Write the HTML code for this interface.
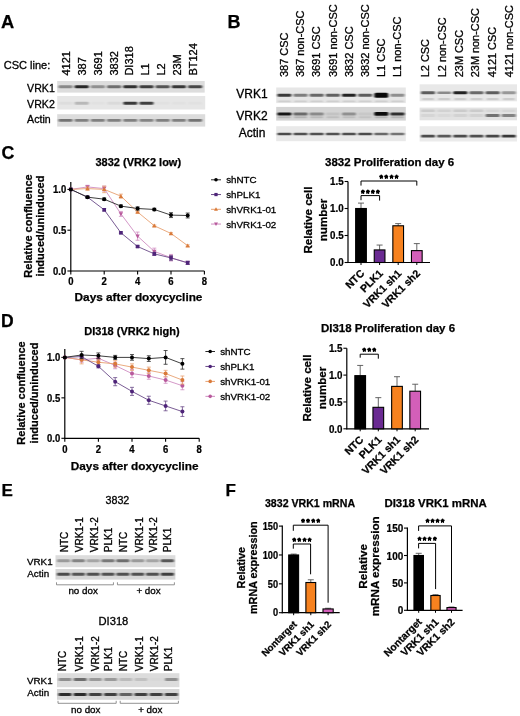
<!DOCTYPE html>
<html><head><meta charset="utf-8"><title>Figure</title>
<style>
html,body{margin:0;padding:0;background:#fff;}
body{width:520px;height:716px;overflow:hidden;}
svg{display:block;filter:blur(0.4px);}
text{font-family:"Liberation Sans", Arial, Helvetica, sans-serif;}
</style></head>
<body>
<svg width="520" height="716" viewBox="0 0 520 716">
<defs>
<filter id="b1" x="-50%" y="-100%" width="200%" height="300%"><feGaussianBlur stdDeviation="0.8 0.6"/></filter>
<filter id="sb" x="-20%" y="-50%" width="140%" height="200%"><feGaussianBlur stdDeviation="0.35"/><feComponentTransfer><feFuncA type="linear" slope="1.5"/></feComponentTransfer></filter>
</defs>
<rect width="520" height="716" fill="#fff"/>
<text x="1.00" y="27.80" font-size="18.3" font-weight="bold" stroke="#000" stroke-width="0.25">A</text>
<text x="3.80" y="69.20" font-size="11" stroke="#000" stroke-width="0.3">CSC line:</text>
<text x="69.90" y="75.60" font-size="11" stroke="#000" stroke-width="0.3" transform="rotate(-90 69.90 75.60)">4121</text>
<text x="85.80" y="75.60" font-size="11" stroke="#000" stroke-width="0.3" transform="rotate(-90 85.80 75.60)">387</text>
<text x="101.70" y="75.60" font-size="11" stroke="#000" stroke-width="0.3" transform="rotate(-90 101.70 75.60)">3691</text>
<text x="117.60" y="75.60" font-size="11" stroke="#000" stroke-width="0.3" transform="rotate(-90 117.60 75.60)">3832</text>
<text x="133.50" y="75.60" font-size="11" stroke="#000" stroke-width="0.3" transform="rotate(-90 133.50 75.60)">DI318</text>
<text x="149.40" y="75.60" font-size="11" stroke="#000" stroke-width="0.3" transform="rotate(-90 149.40 75.60)">L1</text>
<text x="165.30" y="75.60" font-size="11" stroke="#000" stroke-width="0.3" transform="rotate(-90 165.30 75.60)">L2</text>
<text x="181.20" y="75.60" font-size="11" stroke="#000" stroke-width="0.3" transform="rotate(-90 181.20 75.60)">23M</text>
<text x="197.10" y="75.60" font-size="11" stroke="#000" stroke-width="0.3" transform="rotate(-90 197.10 75.60)">BT124</text>
<text x="27.10" y="91.80" font-size="10.6" stroke="#000" stroke-width="0.3">VRK1</text>
<text x="27.10" y="107.80" font-size="10.6" stroke="#000" stroke-width="0.3">VRK2</text>
<text x="27.10" y="123.40" font-size="10.6" stroke="#000" stroke-width="0.3">Actin</text>
<rect x="57.20" y="81.00" width="147.50" height="11.60" fill="#dddddd"/>
<rect x="58.50" y="85.30" width="14.00" height="3.00" rx="1.00" fill="#000" fill-opacity="0.38" filter="url(#b1)"/>
<rect x="74.70" y="85.30" width="14.00" height="3.00" rx="1.00" fill="#000" fill-opacity="0.82" filter="url(#b1)"/>
<rect x="90.90" y="85.30" width="14.00" height="3.00" rx="1.00" fill="#000" fill-opacity="0.35" filter="url(#b1)"/>
<rect x="107.10" y="85.30" width="14.00" height="3.00" rx="1.00" fill="#000" fill-opacity="0.50" filter="url(#b1)"/>
<rect x="123.30" y="85.30" width="14.00" height="3.00" rx="1.00" fill="#000" fill-opacity="0.78" filter="url(#b1)"/>
<rect x="139.50" y="85.30" width="14.00" height="3.00" rx="1.00" fill="#000" fill-opacity="0.72" filter="url(#b1)"/>
<rect x="155.70" y="85.30" width="14.00" height="3.00" rx="1.00" fill="#000" fill-opacity="0.62" filter="url(#b1)"/>
<rect x="171.90" y="85.30" width="14.00" height="3.00" rx="1.00" fill="#000" fill-opacity="0.75" filter="url(#b1)"/>
<rect x="188.10" y="85.30" width="14.00" height="3.00" rx="1.00" fill="#000" fill-opacity="0.68" filter="url(#b1)"/>
<rect x="57.20" y="96.00" width="148.00" height="13.50" fill="#e6e6e6"/>
<rect x="58.50" y="101.70" width="14.00" height="3.00" rx="1.00" fill="#000" fill-opacity="0.04" filter="url(#b1)"/>
<rect x="74.70" y="101.70" width="14.00" height="3.00" rx="1.00" fill="#000" fill-opacity="0.20" filter="url(#b1)"/>
<rect x="90.90" y="101.70" width="14.00" height="3.00" rx="1.00" fill="#000" fill-opacity="0.02" filter="url(#b1)"/>
<rect x="107.10" y="101.70" width="14.00" height="3.00" rx="1.00" fill="#000" fill-opacity="0.05" filter="url(#b1)"/>
<rect x="123.30" y="101.70" width="14.00" height="3.00" rx="1.00" fill="#000" fill-opacity="0.75" filter="url(#b1)"/>
<rect x="139.50" y="101.70" width="14.00" height="3.00" rx="1.00" fill="#000" fill-opacity="0.72" filter="url(#b1)"/>
<rect x="155.70" y="101.70" width="14.00" height="3.00" rx="1.00" fill="#000" fill-opacity="0.02" filter="url(#b1)"/>
<rect x="171.90" y="101.70" width="14.00" height="3.00" rx="1.00" fill="#000" fill-opacity="0.02" filter="url(#b1)"/>
<rect x="188.10" y="101.70" width="14.00" height="3.00" rx="1.00" fill="#000" fill-opacity="0.02" filter="url(#b1)"/>
<rect x="57.20" y="114.20" width="148.00" height="12.40" fill="#dcdcdc"/>
<rect x="58.50" y="118.95" width="14.00" height="2.70" rx="0.90" fill="#000" fill-opacity="0.48" filter="url(#b1)"/>
<rect x="74.70" y="118.95" width="14.00" height="2.70" rx="0.90" fill="#000" fill-opacity="0.42" filter="url(#b1)"/>
<rect x="90.90" y="118.95" width="14.00" height="2.70" rx="0.90" fill="#000" fill-opacity="0.42" filter="url(#b1)"/>
<rect x="107.10" y="118.95" width="14.00" height="2.70" rx="0.90" fill="#000" fill-opacity="0.42" filter="url(#b1)"/>
<rect x="123.30" y="118.95" width="14.00" height="2.70" rx="0.90" fill="#000" fill-opacity="0.42" filter="url(#b1)"/>
<rect x="139.50" y="118.95" width="14.00" height="2.70" rx="0.90" fill="#000" fill-opacity="0.40" filter="url(#b1)"/>
<rect x="155.70" y="118.95" width="14.00" height="2.70" rx="0.90" fill="#000" fill-opacity="0.42" filter="url(#b1)"/>
<rect x="171.90" y="118.95" width="14.00" height="2.70" rx="0.90" fill="#000" fill-opacity="0.42" filter="url(#b1)"/>
<rect x="188.10" y="118.95" width="14.00" height="2.70" rx="0.90" fill="#000" fill-opacity="0.48" filter="url(#b1)"/>
<text x="227.50" y="27.70" font-size="18" font-weight="bold" stroke="#000" stroke-width="0.25">B</text>
<text x="288.10" y="77.10" font-size="11" stroke="#000" stroke-width="0.3" transform="rotate(-90 288.10 77.10)">387 CSC</text>
<text x="304.25" y="77.10" font-size="11" stroke="#000" stroke-width="0.3" transform="rotate(-90 304.25 77.10)">387 non-CSC</text>
<text x="320.40" y="77.10" font-size="11" stroke="#000" stroke-width="0.3" transform="rotate(-90 320.40 77.10)">3691 CSC</text>
<text x="336.55" y="77.10" font-size="11" stroke="#000" stroke-width="0.3" transform="rotate(-90 336.55 77.10)">3691 non-CSC</text>
<text x="352.70" y="77.10" font-size="11" stroke="#000" stroke-width="0.3" transform="rotate(-90 352.70 77.10)">3832 CSC</text>
<text x="368.85" y="77.10" font-size="11" stroke="#000" stroke-width="0.3" transform="rotate(-90 368.85 77.10)">3832 non-CSC</text>
<text x="385.00" y="77.10" font-size="11" stroke="#000" stroke-width="0.3" transform="rotate(-90 385.00 77.10)">L1 CSC</text>
<text x="401.15" y="77.10" font-size="11" stroke="#000" stroke-width="0.3" transform="rotate(-90 401.15 77.10)">L1 non-CSC</text>
<text x="429.50" y="77.20" font-size="10.9" stroke="#000" stroke-width="0.3" transform="rotate(-90 429.50 77.20)">L2 CSC</text>
<text x="446.15" y="77.20" font-size="10.9" stroke="#000" stroke-width="0.3" transform="rotate(-90 446.15 77.20)">L2 non-CSC</text>
<text x="462.80" y="77.20" font-size="10.9" stroke="#000" stroke-width="0.3" transform="rotate(-90 462.80 77.20)">23M CSC</text>
<text x="479.45" y="77.20" font-size="10.9" stroke="#000" stroke-width="0.3" transform="rotate(-90 479.45 77.20)">23M non-CSC</text>
<text x="496.10" y="77.20" font-size="10.9" stroke="#000" stroke-width="0.3" transform="rotate(-90 496.10 77.20)">4121 CSC</text>
<text x="512.75" y="77.20" font-size="10.9" stroke="#000" stroke-width="0.3" transform="rotate(-90 512.75 77.20)">4121 non-CSC</text>
<text x="252.00" y="98.20" font-size="12" stroke="#000" stroke-width="0.3" text-anchor="middle">VRK1</text>
<text x="252.00" y="119.80" font-size="12" stroke="#000" stroke-width="0.3" text-anchor="middle">VRK2</text>
<text x="252.00" y="136.70" font-size="12" stroke="#000" stroke-width="0.3" text-anchor="middle">Actin</text>
<rect x="276.20" y="87.50" width="129.60" height="15.60" fill="#e6e6e6"/>
<rect x="277.40" y="93.80" width="14.00" height="3.00" rx="1.00" fill="#000" fill-opacity="0.75" filter="url(#b1)"/>
<rect x="293.55" y="93.80" width="14.00" height="3.00" rx="1.00" fill="#000" fill-opacity="0.45" filter="url(#b1)"/>
<rect x="309.70" y="93.80" width="14.00" height="3.00" rx="1.00" fill="#000" fill-opacity="0.55" filter="url(#b1)"/>
<rect x="325.85" y="93.80" width="14.00" height="3.00" rx="1.00" fill="#000" fill-opacity="0.58" filter="url(#b1)"/>
<rect x="342.00" y="93.80" width="14.00" height="3.00" rx="1.00" fill="#000" fill-opacity="0.85" filter="url(#b1)"/>
<rect x="358.15" y="93.80" width="14.00" height="3.00" rx="1.00" fill="#000" fill-opacity="0.60" filter="url(#b1)"/>
<rect x="374.30" y="92.80" width="14.00" height="5.00" rx="1.67" fill="#000" fill-opacity="0.97" filter="url(#b1)"/>
<rect x="390.45" y="93.80" width="14.00" height="3.00" rx="1.00" fill="#000" fill-opacity="0.38" filter="url(#b1)"/>
<rect x="277.90" y="100.40" width="13.00" height="1.80" rx="0.60" fill="#000" fill-opacity="0.10" filter="url(#b1)"/>
<rect x="294.05" y="100.40" width="13.00" height="1.80" rx="0.60" fill="#000" fill-opacity="0.10" filter="url(#b1)"/>
<rect x="310.20" y="100.40" width="13.00" height="1.80" rx="0.60" fill="#000" fill-opacity="0.10" filter="url(#b1)"/>
<rect x="326.35" y="100.40" width="13.00" height="1.80" rx="0.60" fill="#000" fill-opacity="0.10" filter="url(#b1)"/>
<rect x="342.50" y="100.40" width="13.00" height="1.80" rx="0.60" fill="#000" fill-opacity="0.10" filter="url(#b1)"/>
<rect x="358.65" y="100.40" width="13.00" height="1.80" rx="0.60" fill="#000" fill-opacity="0.10" filter="url(#b1)"/>
<rect x="374.80" y="100.40" width="13.00" height="1.80" rx="0.60" fill="#000" fill-opacity="0.10" filter="url(#b1)"/>
<rect x="390.95" y="100.40" width="13.00" height="1.80" rx="0.60" fill="#000" fill-opacity="0.10" filter="url(#b1)"/>
<rect x="276.20" y="106.90" width="129.60" height="13.70" fill="#d4d4d4"/>
<rect x="277.40" y="112.40" width="14.00" height="3.00" rx="1.00" fill="#000" fill-opacity="0.90" filter="url(#b1)"/>
<rect x="293.55" y="112.40" width="14.00" height="3.00" rx="1.00" fill="#000" fill-opacity="0.50" filter="url(#b1)"/>
<rect x="309.70" y="112.40" width="14.00" height="3.00" rx="1.00" fill="#000" fill-opacity="0.35" filter="url(#b1)"/>
<rect x="325.85" y="112.40" width="14.00" height="3.00" rx="1.00" fill="#000" fill-opacity="0.08" filter="url(#b1)"/>
<rect x="342.00" y="112.40" width="14.00" height="3.00" rx="1.00" fill="#000" fill-opacity="0.32" filter="url(#b1)"/>
<rect x="358.15" y="112.40" width="14.00" height="3.00" rx="1.00" fill="#000" fill-opacity="0.06" filter="url(#b1)"/>
<rect x="374.30" y="112.00" width="14.00" height="3.80" rx="1.27" fill="#000" fill-opacity="0.95" filter="url(#b1)"/>
<rect x="390.45" y="112.40" width="14.00" height="3.00" rx="1.00" fill="#000" fill-opacity="0.78" filter="url(#b1)"/>
<rect x="277.90" y="116.20" width="13.00" height="2.00" rx="0.67" fill="#000" fill-opacity="0.15" filter="url(#b1)"/>
<rect x="294.05" y="116.20" width="13.00" height="2.00" rx="0.67" fill="#000" fill-opacity="0.15" filter="url(#b1)"/>
<rect x="310.20" y="116.20" width="13.00" height="2.00" rx="0.67" fill="#000" fill-opacity="0.12" filter="url(#b1)"/>
<rect x="326.35" y="116.20" width="13.00" height="2.00" rx="0.67" fill="#000" fill-opacity="0.10" filter="url(#b1)"/>
<rect x="342.50" y="116.20" width="13.00" height="2.00" rx="0.67" fill="#000" fill-opacity="0.10" filter="url(#b1)"/>
<rect x="358.65" y="116.20" width="13.00" height="2.00" rx="0.67" fill="#000" fill-opacity="0.08" filter="url(#b1)"/>
<rect x="374.80" y="116.20" width="13.00" height="2.00" rx="0.67" fill="#000" fill-opacity="0.15" filter="url(#b1)"/>
<rect x="390.95" y="116.20" width="13.00" height="2.00" rx="0.67" fill="#000" fill-opacity="0.15" filter="url(#b1)"/>
<rect x="276.20" y="126.20" width="129.60" height="15.00" fill="#e9e9e9"/>
<rect x="277.40" y="132.65" width="14.00" height="2.70" rx="0.90" fill="#000" fill-opacity="0.68" filter="url(#b1)"/>
<rect x="293.55" y="132.65" width="14.00" height="2.70" rx="0.90" fill="#000" fill-opacity="0.65" filter="url(#b1)"/>
<rect x="309.70" y="132.65" width="14.00" height="2.70" rx="0.90" fill="#000" fill-opacity="0.65" filter="url(#b1)"/>
<rect x="325.85" y="132.65" width="14.00" height="2.70" rx="0.90" fill="#000" fill-opacity="0.65" filter="url(#b1)"/>
<rect x="342.00" y="132.65" width="14.00" height="2.70" rx="0.90" fill="#000" fill-opacity="0.66" filter="url(#b1)"/>
<rect x="358.15" y="132.65" width="14.00" height="2.70" rx="0.90" fill="#000" fill-opacity="0.68" filter="url(#b1)"/>
<rect x="374.30" y="132.65" width="14.00" height="2.70" rx="0.90" fill="#000" fill-opacity="0.55" filter="url(#b1)"/>
<rect x="390.45" y="132.65" width="14.00" height="2.70" rx="0.90" fill="#000" fill-opacity="0.50" filter="url(#b1)"/>
<rect x="419.60" y="84.30" width="97.40" height="17.00" fill="#e8e8e8"/>
<rect x="421.00" y="91.30" width="14.00" height="3.00" rx="1.00" fill="#000" fill-opacity="0.60" filter="url(#b1)"/>
<rect x="437.15" y="91.55" width="14.00" height="2.50" rx="0.83" fill="#000" fill-opacity="0.40" filter="url(#b1)"/>
<rect x="453.30" y="91.30" width="14.00" height="3.00" rx="1.00" fill="#000" fill-opacity="0.85" filter="url(#b1)"/>
<rect x="469.45" y="91.30" width="14.00" height="3.00" rx="1.00" fill="#000" fill-opacity="0.55" filter="url(#b1)"/>
<rect x="485.60" y="91.30" width="14.00" height="3.00" rx="1.00" fill="#000" fill-opacity="0.60" filter="url(#b1)"/>
<rect x="501.75" y="91.30" width="14.00" height="3.00" rx="1.00" fill="#000" fill-opacity="0.35" filter="url(#b1)"/>
<rect x="422.00" y="98.10" width="12.00" height="2.20" rx="0.73" fill="#000" fill-opacity="0.12" filter="url(#b1)"/>
<rect x="438.15" y="98.10" width="12.00" height="2.20" rx="0.73" fill="#000" fill-opacity="0.12" filter="url(#b1)"/>
<rect x="454.30" y="98.10" width="12.00" height="2.20" rx="0.73" fill="#000" fill-opacity="0.12" filter="url(#b1)"/>
<rect x="470.45" y="98.10" width="12.00" height="2.20" rx="0.73" fill="#000" fill-opacity="0.12" filter="url(#b1)"/>
<rect x="486.60" y="98.10" width="12.00" height="2.20" rx="0.73" fill="#000" fill-opacity="0.12" filter="url(#b1)"/>
<rect x="502.75" y="98.10" width="12.00" height="2.20" rx="0.73" fill="#000" fill-opacity="0.12" filter="url(#b1)"/>
<rect x="419.60" y="107.60" width="97.40" height="12.70" fill="#e2e2e2"/>
<rect x="421.00" y="113.90" width="14.00" height="3.00" rx="1.00" fill="#000" fill-opacity="0.06" filter="url(#b1)"/>
<rect x="437.15" y="113.90" width="14.00" height="3.00" rx="1.00" fill="#000" fill-opacity="0.04" filter="url(#b1)"/>
<rect x="453.30" y="113.90" width="14.00" height="3.00" rx="1.00" fill="#000" fill-opacity="0.07" filter="url(#b1)"/>
<rect x="469.45" y="113.90" width="14.00" height="3.00" rx="1.00" fill="#000" fill-opacity="0.07" filter="url(#b1)"/>
<rect x="485.60" y="113.90" width="14.00" height="3.00" rx="1.00" fill="#000" fill-opacity="0.50" filter="url(#b1)"/>
<rect x="501.75" y="113.90" width="14.00" height="3.00" rx="1.00" fill="#000" fill-opacity="0.42" filter="url(#b1)"/>
<rect x="421.00" y="109.55" width="14.00" height="2.50" rx="0.83" fill="#000" fill-opacity="0.10" filter="url(#b1)"/>
<rect x="437.15" y="109.55" width="14.00" height="2.50" rx="0.83" fill="#000" fill-opacity="0.07" filter="url(#b1)"/>
<rect x="453.30" y="109.55" width="14.00" height="2.50" rx="0.83" fill="#000" fill-opacity="0.10" filter="url(#b1)"/>
<rect x="469.45" y="109.55" width="14.00" height="2.50" rx="0.83" fill="#000" fill-opacity="0.10" filter="url(#b1)"/>
<rect x="485.60" y="109.55" width="14.00" height="2.50" rx="0.83" fill="#000" fill-opacity="0.05" filter="url(#b1)"/>
<rect x="501.75" y="109.55" width="14.00" height="2.50" rx="0.83" fill="#000" fill-opacity="0.05" filter="url(#b1)"/>
<rect x="419.60" y="126.20" width="97.40" height="15.30" fill="#ebebeb"/>
<rect x="421.00" y="134.85" width="14.00" height="2.70" rx="0.90" fill="#000" fill-opacity="0.68" filter="url(#b1)"/>
<rect x="437.15" y="134.85" width="14.00" height="2.70" rx="0.90" fill="#000" fill-opacity="0.62" filter="url(#b1)"/>
<rect x="453.30" y="134.85" width="14.00" height="2.70" rx="0.90" fill="#000" fill-opacity="0.68" filter="url(#b1)"/>
<rect x="469.45" y="134.85" width="14.00" height="2.70" rx="0.90" fill="#000" fill-opacity="0.66" filter="url(#b1)"/>
<rect x="485.60" y="134.85" width="14.00" height="2.70" rx="0.90" fill="#000" fill-opacity="0.70" filter="url(#b1)"/>
<rect x="501.75" y="134.85" width="14.00" height="2.70" rx="0.90" fill="#000" fill-opacity="0.76" filter="url(#b1)"/>
<text x="1.40" y="159.20" font-size="17.8" font-weight="bold" stroke="#000" stroke-width="0.25">C</text>
<line x1="70.80" y1="182.00" x2="70.80" y2="271.50" stroke="#000" stroke-width="1.2"/>
<line x1="70.20" y1="271.00" x2="204.40" y2="271.00" stroke="#000" stroke-width="1.2"/>
<line x1="67.40" y1="271.00" x2="70.80" y2="271.00" stroke="#000" stroke-width="1.1"/>
<text x="0.00" y="0.00" font-size="10.8" font-weight="bold" stroke="#000" stroke-width="0.25" text-anchor="end" transform="translate(66.20 274.70) scale(0.88 1)">0.0</text>
<line x1="67.40" y1="230.20" x2="70.80" y2="230.20" stroke="#000" stroke-width="1.1"/>
<text x="0.00" y="0.00" font-size="10.8" font-weight="bold" stroke="#000" stroke-width="0.25" text-anchor="end" transform="translate(66.20 233.90) scale(0.88 1)">0.5</text>
<line x1="67.40" y1="189.40" x2="70.80" y2="189.40" stroke="#000" stroke-width="1.1"/>
<text x="0.00" y="0.00" font-size="10.8" font-weight="bold" stroke="#000" stroke-width="0.25" text-anchor="end" transform="translate(66.20 193.10) scale(0.88 1)">1.0</text>
<line x1="70.80" y1="271.00" x2="70.80" y2="274.40" stroke="#000" stroke-width="1.1"/>
<text x="0.00" y="0.00" font-size="10.8" font-weight="bold" stroke="#000" stroke-width="0.25" text-anchor="middle" transform="translate(70.80 285.20) scale(0.88 1)">0</text>
<line x1="104.20" y1="271.00" x2="104.20" y2="274.40" stroke="#000" stroke-width="1.1"/>
<text x="0.00" y="0.00" font-size="10.8" font-weight="bold" stroke="#000" stroke-width="0.25" text-anchor="middle" transform="translate(104.20 285.20) scale(0.88 1)">2</text>
<line x1="137.60" y1="271.00" x2="137.60" y2="274.40" stroke="#000" stroke-width="1.1"/>
<text x="0.00" y="0.00" font-size="10.8" font-weight="bold" stroke="#000" stroke-width="0.25" text-anchor="middle" transform="translate(137.60 285.20) scale(0.88 1)">4</text>
<line x1="171.00" y1="271.00" x2="171.00" y2="274.40" stroke="#000" stroke-width="1.1"/>
<text x="0.00" y="0.00" font-size="10.8" font-weight="bold" stroke="#000" stroke-width="0.25" text-anchor="middle" transform="translate(171.00 285.20) scale(0.88 1)">6</text>
<line x1="204.40" y1="271.00" x2="204.40" y2="274.40" stroke="#000" stroke-width="1.1"/>
<text x="0.00" y="0.00" font-size="10.8" font-weight="bold" stroke="#000" stroke-width="0.25" text-anchor="middle" transform="translate(204.40 285.20) scale(0.88 1)">8</text>
<text x="138.30" y="166.20" font-size="11" font-weight="bold" stroke="#000" stroke-width="0.25" text-anchor="middle">3832 (VRK2 low)</text>
<text x="31.60" y="226.00" font-size="11" font-weight="bold" stroke="#000" stroke-width="0.25" text-anchor="middle" transform="rotate(-90 31.60 226.00)">Relative confluence</text>
<text x="44.00" y="226.00" font-size="11" font-weight="bold" stroke="#000" stroke-width="0.25" text-anchor="middle" transform="rotate(-90 44.00 226.00)">induced/uninduced</text>
<text x="138.50" y="300.80" font-size="11.8" font-weight="bold" stroke="#000" stroke-width="0.25" text-anchor="middle">Days after doxycycline</text>
<polyline points="70.80,189.40 87.50,186.95 104.20,188.58 120.90,213.88 137.60,236.16 154.30,251.42 171.00,257.70 187.70,262.84" fill="none" stroke="#cf8cc2" stroke-width="0.9" stroke-linejoin="round"/>
<line x1="87.50" y1="185.32" x2="87.50" y2="188.58" stroke="#cf8cc2" stroke-width="0.8"/>
<line x1="85.50" y1="185.32" x2="89.50" y2="185.32" stroke="#cf8cc2" stroke-width="0.8"/>
<line x1="85.50" y1="188.58" x2="89.50" y2="188.58" stroke="#cf8cc2" stroke-width="0.8"/>
<line x1="104.20" y1="186.14" x2="104.20" y2="191.03" stroke="#cf8cc2" stroke-width="0.8"/>
<line x1="102.20" y1="186.14" x2="106.20" y2="186.14" stroke="#cf8cc2" stroke-width="0.8"/>
<line x1="102.20" y1="191.03" x2="106.20" y2="191.03" stroke="#cf8cc2" stroke-width="0.8"/>
<line x1="120.90" y1="211.43" x2="120.90" y2="216.33" stroke="#cf8cc2" stroke-width="0.8"/>
<line x1="118.90" y1="211.43" x2="122.90" y2="211.43" stroke="#cf8cc2" stroke-width="0.8"/>
<line x1="118.90" y1="216.33" x2="122.90" y2="216.33" stroke="#cf8cc2" stroke-width="0.8"/>
<line x1="137.60" y1="232.08" x2="137.60" y2="240.24" stroke="#cf8cc2" stroke-width="0.8"/>
<line x1="135.60" y1="232.08" x2="139.60" y2="232.08" stroke="#cf8cc2" stroke-width="0.8"/>
<line x1="135.60" y1="240.24" x2="139.60" y2="240.24" stroke="#cf8cc2" stroke-width="0.8"/>
<line x1="154.30" y1="248.15" x2="154.30" y2="254.68" stroke="#cf8cc2" stroke-width="0.8"/>
<line x1="152.30" y1="248.15" x2="156.30" y2="248.15" stroke="#cf8cc2" stroke-width="0.8"/>
<line x1="152.30" y1="254.68" x2="156.30" y2="254.68" stroke="#cf8cc2" stroke-width="0.8"/>
<line x1="171.00" y1="254.44" x2="171.00" y2="260.96" stroke="#cf8cc2" stroke-width="0.8"/>
<line x1="169.00" y1="254.44" x2="173.00" y2="254.44" stroke="#cf8cc2" stroke-width="0.8"/>
<line x1="169.00" y1="260.96" x2="173.00" y2="260.96" stroke="#cf8cc2" stroke-width="0.8"/>
<line x1="187.70" y1="261.21" x2="187.70" y2="264.47" stroke="#cf8cc2" stroke-width="0.8"/>
<line x1="185.70" y1="261.21" x2="189.70" y2="261.21" stroke="#cf8cc2" stroke-width="0.8"/>
<line x1="185.70" y1="264.47" x2="189.70" y2="264.47" stroke="#cf8cc2" stroke-width="0.8"/>
<polygon points="70.80,191.68 72.98,187.69 68.61,187.69" fill="#b85a9c"/>
<polygon points="87.50,189.23 89.69,185.24 85.31,185.24" fill="#b85a9c"/>
<polygon points="104.20,190.86 106.38,186.87 102.01,186.87" fill="#b85a9c"/>
<polygon points="120.90,216.16 123.08,212.17 118.71,212.17" fill="#b85a9c"/>
<polygon points="137.60,238.44 139.78,234.45 135.41,234.45" fill="#b85a9c"/>
<polygon points="154.30,253.70 156.49,249.71 152.12,249.71" fill="#b85a9c"/>
<polygon points="171.00,259.98 173.19,255.99 168.81,255.99" fill="#b85a9c"/>
<polygon points="187.70,265.12 189.88,261.13 185.51,261.13" fill="#b85a9c"/>
<polyline points="70.80,189.40 87.50,188.58 104.20,189.40 120.90,196.17 137.60,212.00 154.30,225.79 171.00,233.46 187.70,245.70" fill="none" stroke="#e8a070" stroke-width="0.9" stroke-linejoin="round"/>
<line x1="87.50" y1="186.95" x2="87.50" y2="190.22" stroke="#e8a070" stroke-width="0.8"/>
<line x1="85.50" y1="186.95" x2="89.50" y2="186.95" stroke="#e8a070" stroke-width="0.8"/>
<line x1="85.50" y1="190.22" x2="89.50" y2="190.22" stroke="#e8a070" stroke-width="0.8"/>
<line x1="104.20" y1="186.14" x2="104.20" y2="192.66" stroke="#e8a070" stroke-width="0.8"/>
<line x1="102.20" y1="186.14" x2="106.20" y2="186.14" stroke="#e8a070" stroke-width="0.8"/>
<line x1="102.20" y1="192.66" x2="106.20" y2="192.66" stroke="#e8a070" stroke-width="0.8"/>
<line x1="120.90" y1="194.13" x2="120.90" y2="198.21" stroke="#e8a070" stroke-width="0.8"/>
<line x1="118.90" y1="194.13" x2="122.90" y2="194.13" stroke="#e8a070" stroke-width="0.8"/>
<line x1="118.90" y1="198.21" x2="122.90" y2="198.21" stroke="#e8a070" stroke-width="0.8"/>
<line x1="137.60" y1="211.19" x2="137.60" y2="212.82" stroke="#e8a070" stroke-width="0.8"/>
<line x1="135.60" y1="211.19" x2="139.60" y2="211.19" stroke="#e8a070" stroke-width="0.8"/>
<line x1="135.60" y1="212.82" x2="139.60" y2="212.82" stroke="#e8a070" stroke-width="0.8"/>
<line x1="154.30" y1="224.98" x2="154.30" y2="226.61" stroke="#e8a070" stroke-width="0.8"/>
<line x1="152.30" y1="224.98" x2="156.30" y2="224.98" stroke="#e8a070" stroke-width="0.8"/>
<line x1="152.30" y1="226.61" x2="156.30" y2="226.61" stroke="#e8a070" stroke-width="0.8"/>
<line x1="171.00" y1="232.65" x2="171.00" y2="234.28" stroke="#e8a070" stroke-width="0.8"/>
<line x1="169.00" y1="232.65" x2="173.00" y2="232.65" stroke="#e8a070" stroke-width="0.8"/>
<line x1="169.00" y1="234.28" x2="173.00" y2="234.28" stroke="#e8a070" stroke-width="0.8"/>
<line x1="187.70" y1="244.89" x2="187.70" y2="246.52" stroke="#e8a070" stroke-width="0.8"/>
<line x1="185.70" y1="244.89" x2="189.70" y2="244.89" stroke="#e8a070" stroke-width="0.8"/>
<line x1="185.70" y1="246.52" x2="189.70" y2="246.52" stroke="#e8a070" stroke-width="0.8"/>
<polygon points="70.80,187.12 72.98,191.11 68.61,191.11" fill="#d97a3a"/>
<polygon points="87.50,186.30 89.69,190.29 85.31,190.29" fill="#d97a3a"/>
<polygon points="104.20,187.12 106.38,191.11 102.01,191.11" fill="#d97a3a"/>
<polygon points="120.90,193.89 123.08,197.88 118.71,197.88" fill="#d97a3a"/>
<polygon points="137.60,209.72 139.78,213.71 135.41,213.71" fill="#d97a3a"/>
<polygon points="154.30,223.51 156.49,227.50 152.12,227.50" fill="#d97a3a"/>
<polygon points="171.00,231.18 173.19,235.17 168.81,235.17" fill="#d97a3a"/>
<polygon points="187.70,243.42 189.88,247.41 185.51,247.41" fill="#d97a3a"/>
<polyline points="70.80,189.40 87.50,197.15 104.20,209.80 120.90,232.81 137.60,246.52 154.30,253.86 171.00,257.94 187.70,262.84" fill="none" stroke="#6a4a88" stroke-width="0.9" stroke-linejoin="round"/>
<line x1="87.50" y1="196.34" x2="87.50" y2="197.97" stroke="#6a4a88" stroke-width="0.8"/>
<line x1="85.50" y1="196.34" x2="89.50" y2="196.34" stroke="#6a4a88" stroke-width="0.8"/>
<line x1="85.50" y1="197.97" x2="89.50" y2="197.97" stroke="#6a4a88" stroke-width="0.8"/>
<line x1="104.20" y1="208.58" x2="104.20" y2="211.02" stroke="#6a4a88" stroke-width="0.8"/>
<line x1="102.20" y1="208.58" x2="106.20" y2="208.58" stroke="#6a4a88" stroke-width="0.8"/>
<line x1="102.20" y1="211.02" x2="106.20" y2="211.02" stroke="#6a4a88" stroke-width="0.8"/>
<line x1="120.90" y1="232.00" x2="120.90" y2="233.63" stroke="#6a4a88" stroke-width="0.8"/>
<line x1="118.90" y1="232.00" x2="122.90" y2="232.00" stroke="#6a4a88" stroke-width="0.8"/>
<line x1="118.90" y1="233.63" x2="122.90" y2="233.63" stroke="#6a4a88" stroke-width="0.8"/>
<line x1="137.60" y1="245.70" x2="137.60" y2="247.34" stroke="#6a4a88" stroke-width="0.8"/>
<line x1="135.60" y1="245.70" x2="139.60" y2="245.70" stroke="#6a4a88" stroke-width="0.8"/>
<line x1="135.60" y1="247.34" x2="139.60" y2="247.34" stroke="#6a4a88" stroke-width="0.8"/>
<line x1="154.30" y1="252.23" x2="154.30" y2="255.50" stroke="#6a4a88" stroke-width="0.8"/>
<line x1="152.30" y1="252.23" x2="156.30" y2="252.23" stroke="#6a4a88" stroke-width="0.8"/>
<line x1="152.30" y1="255.50" x2="156.30" y2="255.50" stroke="#6a4a88" stroke-width="0.8"/>
<line x1="171.00" y1="255.50" x2="171.00" y2="260.39" stroke="#6a4a88" stroke-width="0.8"/>
<line x1="169.00" y1="255.50" x2="173.00" y2="255.50" stroke="#6a4a88" stroke-width="0.8"/>
<line x1="169.00" y1="260.39" x2="173.00" y2="260.39" stroke="#6a4a88" stroke-width="0.8"/>
<line x1="187.70" y1="261.21" x2="187.70" y2="264.47" stroke="#6a4a88" stroke-width="0.8"/>
<line x1="185.70" y1="261.21" x2="189.70" y2="261.21" stroke="#6a4a88" stroke-width="0.8"/>
<line x1="185.70" y1="264.47" x2="189.70" y2="264.47" stroke="#6a4a88" stroke-width="0.8"/>
<rect x="69.00" y="187.60" width="3.60" height="3.60" fill="#4e2479"/>
<rect x="85.70" y="195.35" width="3.60" height="3.60" fill="#4e2479"/>
<rect x="102.40" y="208.00" width="3.60" height="3.60" fill="#4e2479"/>
<rect x="119.10" y="231.01" width="3.60" height="3.60" fill="#4e2479"/>
<rect x="135.80" y="244.72" width="3.60" height="3.60" fill="#4e2479"/>
<rect x="152.50" y="252.06" width="3.60" height="3.60" fill="#4e2479"/>
<rect x="169.20" y="256.14" width="3.60" height="3.60" fill="#4e2479"/>
<rect x="185.90" y="261.04" width="3.60" height="3.60" fill="#4e2479"/>
<polyline points="70.80,189.40 87.50,197.15 104.20,199.19 120.90,206.13 137.60,208.49 154.30,209.47 171.00,215.10 187.70,215.51" fill="none" stroke="#2a2a2a" stroke-width="0.9" stroke-linejoin="round"/>
<line x1="87.50" y1="196.34" x2="87.50" y2="197.97" stroke="#2a2a2a" stroke-width="0.8"/>
<line x1="85.50" y1="196.34" x2="89.50" y2="196.34" stroke="#2a2a2a" stroke-width="0.8"/>
<line x1="85.50" y1="197.97" x2="89.50" y2="197.97" stroke="#2a2a2a" stroke-width="0.8"/>
<line x1="104.20" y1="197.97" x2="104.20" y2="200.42" stroke="#2a2a2a" stroke-width="0.8"/>
<line x1="102.20" y1="197.97" x2="106.20" y2="197.97" stroke="#2a2a2a" stroke-width="0.8"/>
<line x1="102.20" y1="200.42" x2="106.20" y2="200.42" stroke="#2a2a2a" stroke-width="0.8"/>
<line x1="120.90" y1="204.90" x2="120.90" y2="207.35" stroke="#2a2a2a" stroke-width="0.8"/>
<line x1="118.90" y1="204.90" x2="122.90" y2="204.90" stroke="#2a2a2a" stroke-width="0.8"/>
<line x1="118.90" y1="207.35" x2="122.90" y2="207.35" stroke="#2a2a2a" stroke-width="0.8"/>
<line x1="137.60" y1="206.86" x2="137.60" y2="210.13" stroke="#2a2a2a" stroke-width="0.8"/>
<line x1="135.60" y1="206.86" x2="139.60" y2="206.86" stroke="#2a2a2a" stroke-width="0.8"/>
<line x1="135.60" y1="210.13" x2="139.60" y2="210.13" stroke="#2a2a2a" stroke-width="0.8"/>
<line x1="154.30" y1="208.25" x2="154.30" y2="210.70" stroke="#2a2a2a" stroke-width="0.8"/>
<line x1="152.30" y1="208.25" x2="156.30" y2="208.25" stroke="#2a2a2a" stroke-width="0.8"/>
<line x1="152.30" y1="210.70" x2="156.30" y2="210.70" stroke="#2a2a2a" stroke-width="0.8"/>
<line x1="171.00" y1="212.66" x2="171.00" y2="217.55" stroke="#2a2a2a" stroke-width="0.8"/>
<line x1="169.00" y1="212.66" x2="173.00" y2="212.66" stroke="#2a2a2a" stroke-width="0.8"/>
<line x1="169.00" y1="217.55" x2="173.00" y2="217.55" stroke="#2a2a2a" stroke-width="0.8"/>
<line x1="187.70" y1="213.06" x2="187.70" y2="217.96" stroke="#2a2a2a" stroke-width="0.8"/>
<line x1="185.70" y1="213.06" x2="189.70" y2="213.06" stroke="#2a2a2a" stroke-width="0.8"/>
<line x1="185.70" y1="217.96" x2="189.70" y2="217.96" stroke="#2a2a2a" stroke-width="0.8"/>
<circle cx="70.80" cy="189.40" r="2.00" fill="#000000"/>
<circle cx="87.50" cy="197.15" r="2.00" fill="#000000"/>
<circle cx="104.20" cy="199.19" r="2.00" fill="#000000"/>
<circle cx="120.90" cy="206.13" r="2.00" fill="#000000"/>
<circle cx="137.60" cy="208.49" r="2.00" fill="#000000"/>
<circle cx="154.30" cy="209.47" r="2.00" fill="#000000"/>
<circle cx="171.00" cy="215.10" r="2.00" fill="#000000"/>
<circle cx="187.70" cy="215.51" r="2.00" fill="#000000"/>
<line x1="211.00" y1="179.80" x2="221.00" y2="179.80" stroke="#2a2a2a" stroke-width="1"/>
<circle cx="216.00" cy="179.80" r="1.80" fill="#000000"/>
<text x="226.20" y="183.30" font-size="9.8" stroke="#000" stroke-width="0.3">shNTC</text>
<line x1="211.00" y1="194.55" x2="221.00" y2="194.55" stroke="#6a4a88" stroke-width="1"/>
<rect x="214.38" y="192.93" width="3.24" height="3.24" fill="#4e2479"/>
<text x="226.20" y="198.05" font-size="9.8" stroke="#000" stroke-width="0.3">shPLK1</text>
<line x1="211.00" y1="209.30" x2="221.00" y2="209.30" stroke="#e8a070" stroke-width="1"/>
<polygon points="216.00,207.25 217.97,210.84 214.03,210.84" fill="#d97a3a"/>
<text x="226.20" y="212.80" font-size="9.8" stroke="#000" stroke-width="0.3">shVRK1-01</text>
<line x1="211.00" y1="224.05" x2="221.00" y2="224.05" stroke="#cf8cc2" stroke-width="1"/>
<polygon points="216.00,226.10 217.97,222.51 214.03,222.51" fill="#b85a9c"/>
<text x="226.20" y="227.55" font-size="9.8" stroke="#000" stroke-width="0.3">shVRK1-02</text>
<text x="0.90" y="326.60" font-size="17.5" font-weight="bold" stroke="#000" stroke-width="0.25">D</text>
<line x1="64.80" y1="349.00" x2="64.80" y2="438.80" stroke="#000" stroke-width="1.2"/>
<line x1="64.20" y1="438.30" x2="199.20" y2="438.30" stroke="#000" stroke-width="1.2"/>
<line x1="61.40" y1="438.30" x2="64.80" y2="438.30" stroke="#000" stroke-width="1.1"/>
<text x="0.00" y="0.00" font-size="10.8" font-weight="bold" stroke="#000" stroke-width="0.25" text-anchor="end" transform="translate(60.20 442.00) scale(0.88 1)">0.0</text>
<line x1="61.40" y1="397.85" x2="64.80" y2="397.85" stroke="#000" stroke-width="1.1"/>
<text x="0.00" y="0.00" font-size="10.8" font-weight="bold" stroke="#000" stroke-width="0.25" text-anchor="end" transform="translate(60.20 401.55) scale(0.88 1)">0.5</text>
<line x1="61.40" y1="357.40" x2="64.80" y2="357.40" stroke="#000" stroke-width="1.1"/>
<text x="0.00" y="0.00" font-size="10.8" font-weight="bold" stroke="#000" stroke-width="0.25" text-anchor="end" transform="translate(60.20 361.10) scale(0.88 1)">1.0</text>
<line x1="64.80" y1="438.30" x2="64.80" y2="441.70" stroke="#000" stroke-width="1.1"/>
<text x="0.00" y="0.00" font-size="10.8" font-weight="bold" stroke="#000" stroke-width="0.25" text-anchor="middle" transform="translate(64.80 452.50) scale(0.88 1)">0</text>
<line x1="98.40" y1="438.30" x2="98.40" y2="441.70" stroke="#000" stroke-width="1.1"/>
<text x="0.00" y="0.00" font-size="10.8" font-weight="bold" stroke="#000" stroke-width="0.25" text-anchor="middle" transform="translate(98.40 452.50) scale(0.88 1)">2</text>
<line x1="132.00" y1="438.30" x2="132.00" y2="441.70" stroke="#000" stroke-width="1.1"/>
<text x="0.00" y="0.00" font-size="10.8" font-weight="bold" stroke="#000" stroke-width="0.25" text-anchor="middle" transform="translate(132.00 452.50) scale(0.88 1)">4</text>
<line x1="165.60" y1="438.30" x2="165.60" y2="441.70" stroke="#000" stroke-width="1.1"/>
<text x="0.00" y="0.00" font-size="10.8" font-weight="bold" stroke="#000" stroke-width="0.25" text-anchor="middle" transform="translate(165.60 452.50) scale(0.88 1)">6</text>
<line x1="199.20" y1="438.30" x2="199.20" y2="441.70" stroke="#000" stroke-width="1.1"/>
<text x="0.00" y="0.00" font-size="10.8" font-weight="bold" stroke="#000" stroke-width="0.25" text-anchor="middle" transform="translate(199.20 452.50) scale(0.88 1)">8</text>
<text x="132.00" y="334.50" font-size="11" font-weight="bold" stroke="#000" stroke-width="0.25" text-anchor="middle">DI318 (VRK2 high)</text>
<text x="25.40" y="393.00" font-size="11" font-weight="bold" stroke="#000" stroke-width="0.25" text-anchor="middle" transform="rotate(-90 25.40 393.00)">Relative confluence</text>
<text x="37.80" y="393.00" font-size="11" font-weight="bold" stroke="#000" stroke-width="0.25" text-anchor="middle" transform="rotate(-90 37.80 393.00)">induced/uninduced</text>
<text x="134.70" y="469.70" font-size="11.8" font-weight="bold" stroke="#000" stroke-width="0.25" text-anchor="middle">Days after doxycycline</text>
<polyline points="64.80,357.40 81.60,359.83 98.40,358.21 115.20,365.49 132.00,373.58 148.80,376.01 165.60,380.05 182.40,385.72" fill="none" stroke="#cf8cc2" stroke-width="0.9" stroke-linejoin="round"/>
<line x1="81.60" y1="357.40" x2="81.60" y2="362.25" stroke="#cf8cc2" stroke-width="0.8"/>
<line x1="79.60" y1="357.40" x2="83.60" y2="357.40" stroke="#cf8cc2" stroke-width="0.8"/>
<line x1="79.60" y1="362.25" x2="83.60" y2="362.25" stroke="#cf8cc2" stroke-width="0.8"/>
<line x1="98.40" y1="355.78" x2="98.40" y2="360.64" stroke="#cf8cc2" stroke-width="0.8"/>
<line x1="96.40" y1="355.78" x2="100.40" y2="355.78" stroke="#cf8cc2" stroke-width="0.8"/>
<line x1="96.40" y1="360.64" x2="100.40" y2="360.64" stroke="#cf8cc2" stroke-width="0.8"/>
<line x1="115.20" y1="362.25" x2="115.20" y2="368.73" stroke="#cf8cc2" stroke-width="0.8"/>
<line x1="113.20" y1="362.25" x2="117.20" y2="362.25" stroke="#cf8cc2" stroke-width="0.8"/>
<line x1="113.20" y1="368.73" x2="117.20" y2="368.73" stroke="#cf8cc2" stroke-width="0.8"/>
<line x1="132.00" y1="369.53" x2="132.00" y2="377.62" stroke="#cf8cc2" stroke-width="0.8"/>
<line x1="130.00" y1="369.53" x2="134.00" y2="369.53" stroke="#cf8cc2" stroke-width="0.8"/>
<line x1="130.00" y1="377.62" x2="134.00" y2="377.62" stroke="#cf8cc2" stroke-width="0.8"/>
<line x1="148.80" y1="372.77" x2="148.80" y2="379.24" stroke="#cf8cc2" stroke-width="0.8"/>
<line x1="146.80" y1="372.77" x2="150.80" y2="372.77" stroke="#cf8cc2" stroke-width="0.8"/>
<line x1="146.80" y1="379.24" x2="150.80" y2="379.24" stroke="#cf8cc2" stroke-width="0.8"/>
<line x1="165.60" y1="376.82" x2="165.60" y2="383.29" stroke="#cf8cc2" stroke-width="0.8"/>
<line x1="163.60" y1="376.82" x2="167.60" y2="376.82" stroke="#cf8cc2" stroke-width="0.8"/>
<line x1="163.60" y1="383.29" x2="167.60" y2="383.29" stroke="#cf8cc2" stroke-width="0.8"/>
<line x1="182.40" y1="381.67" x2="182.40" y2="389.76" stroke="#cf8cc2" stroke-width="0.8"/>
<line x1="180.40" y1="381.67" x2="184.40" y2="381.67" stroke="#cf8cc2" stroke-width="0.8"/>
<line x1="180.40" y1="389.76" x2="184.40" y2="389.76" stroke="#cf8cc2" stroke-width="0.8"/>
<circle cx="64.80" cy="357.40" r="2.00" fill="#b85a9c"/>
<circle cx="81.60" cy="359.83" r="2.00" fill="#b85a9c"/>
<circle cx="98.40" cy="358.21" r="2.00" fill="#b85a9c"/>
<circle cx="115.20" cy="365.49" r="2.00" fill="#b85a9c"/>
<circle cx="132.00" cy="373.58" r="2.00" fill="#b85a9c"/>
<circle cx="148.80" cy="376.01" r="2.00" fill="#b85a9c"/>
<circle cx="165.60" cy="380.05" r="2.00" fill="#b85a9c"/>
<circle cx="182.40" cy="385.72" r="2.00" fill="#b85a9c"/>
<polyline points="64.80,357.40 81.60,359.83 98.40,362.25 115.20,363.87 132.00,367.11 148.80,370.34 165.60,373.58 182.40,380.05" fill="none" stroke="#e8a070" stroke-width="0.9" stroke-linejoin="round"/>
<line x1="81.60" y1="355.78" x2="81.60" y2="363.87" stroke="#e8a070" stroke-width="0.8"/>
<line x1="79.60" y1="355.78" x2="83.60" y2="355.78" stroke="#e8a070" stroke-width="0.8"/>
<line x1="79.60" y1="363.87" x2="83.60" y2="363.87" stroke="#e8a070" stroke-width="0.8"/>
<line x1="98.40" y1="359.83" x2="98.40" y2="364.68" stroke="#e8a070" stroke-width="0.8"/>
<line x1="96.40" y1="359.83" x2="100.40" y2="359.83" stroke="#e8a070" stroke-width="0.8"/>
<line x1="96.40" y1="364.68" x2="100.40" y2="364.68" stroke="#e8a070" stroke-width="0.8"/>
<line x1="115.20" y1="360.64" x2="115.20" y2="367.11" stroke="#e8a070" stroke-width="0.8"/>
<line x1="113.20" y1="360.64" x2="117.20" y2="360.64" stroke="#e8a070" stroke-width="0.8"/>
<line x1="113.20" y1="367.11" x2="117.20" y2="367.11" stroke="#e8a070" stroke-width="0.8"/>
<line x1="132.00" y1="363.87" x2="132.00" y2="370.34" stroke="#e8a070" stroke-width="0.8"/>
<line x1="130.00" y1="363.87" x2="134.00" y2="363.87" stroke="#e8a070" stroke-width="0.8"/>
<line x1="130.00" y1="370.34" x2="134.00" y2="370.34" stroke="#e8a070" stroke-width="0.8"/>
<line x1="148.80" y1="367.11" x2="148.80" y2="373.58" stroke="#e8a070" stroke-width="0.8"/>
<line x1="146.80" y1="367.11" x2="150.80" y2="367.11" stroke="#e8a070" stroke-width="0.8"/>
<line x1="146.80" y1="373.58" x2="150.80" y2="373.58" stroke="#e8a070" stroke-width="0.8"/>
<line x1="165.60" y1="370.34" x2="165.60" y2="376.82" stroke="#e8a070" stroke-width="0.8"/>
<line x1="163.60" y1="370.34" x2="167.60" y2="370.34" stroke="#e8a070" stroke-width="0.8"/>
<line x1="163.60" y1="376.82" x2="167.60" y2="376.82" stroke="#e8a070" stroke-width="0.8"/>
<line x1="182.40" y1="376.01" x2="182.40" y2="384.10" stroke="#e8a070" stroke-width="0.8"/>
<line x1="180.40" y1="376.01" x2="184.40" y2="376.01" stroke="#e8a070" stroke-width="0.8"/>
<line x1="180.40" y1="384.10" x2="184.40" y2="384.10" stroke="#e8a070" stroke-width="0.8"/>
<circle cx="64.80" cy="357.40" r="2.00" fill="#d97a3a"/>
<circle cx="81.60" cy="359.83" r="2.00" fill="#d97a3a"/>
<circle cx="98.40" cy="362.25" r="2.00" fill="#d97a3a"/>
<circle cx="115.20" cy="363.87" r="2.00" fill="#d97a3a"/>
<circle cx="132.00" cy="367.11" r="2.00" fill="#d97a3a"/>
<circle cx="148.80" cy="370.34" r="2.00" fill="#d97a3a"/>
<circle cx="165.60" cy="373.58" r="2.00" fill="#d97a3a"/>
<circle cx="182.40" cy="380.05" r="2.00" fill="#d97a3a"/>
<polyline points="64.80,357.40 81.60,356.59 98.40,366.30 115.20,381.67 132.00,391.38 148.80,400.28 165.60,405.94 182.40,411.60" fill="none" stroke="#6a4a88" stroke-width="0.9" stroke-linejoin="round"/>
<line x1="81.60" y1="354.97" x2="81.60" y2="358.21" stroke="#6a4a88" stroke-width="0.8"/>
<line x1="79.60" y1="354.97" x2="83.60" y2="354.97" stroke="#6a4a88" stroke-width="0.8"/>
<line x1="79.60" y1="358.21" x2="83.60" y2="358.21" stroke="#6a4a88" stroke-width="0.8"/>
<line x1="98.40" y1="364.68" x2="98.40" y2="367.92" stroke="#6a4a88" stroke-width="0.8"/>
<line x1="96.40" y1="364.68" x2="100.40" y2="364.68" stroke="#6a4a88" stroke-width="0.8"/>
<line x1="96.40" y1="367.92" x2="100.40" y2="367.92" stroke="#6a4a88" stroke-width="0.8"/>
<line x1="115.20" y1="377.62" x2="115.20" y2="385.72" stroke="#6a4a88" stroke-width="0.8"/>
<line x1="113.20" y1="377.62" x2="117.20" y2="377.62" stroke="#6a4a88" stroke-width="0.8"/>
<line x1="113.20" y1="385.72" x2="117.20" y2="385.72" stroke="#6a4a88" stroke-width="0.8"/>
<line x1="132.00" y1="387.33" x2="132.00" y2="395.42" stroke="#6a4a88" stroke-width="0.8"/>
<line x1="130.00" y1="387.33" x2="134.00" y2="387.33" stroke="#6a4a88" stroke-width="0.8"/>
<line x1="130.00" y1="395.42" x2="134.00" y2="395.42" stroke="#6a4a88" stroke-width="0.8"/>
<line x1="148.80" y1="396.23" x2="148.80" y2="404.32" stroke="#6a4a88" stroke-width="0.8"/>
<line x1="146.80" y1="396.23" x2="150.80" y2="396.23" stroke="#6a4a88" stroke-width="0.8"/>
<line x1="146.80" y1="404.32" x2="150.80" y2="404.32" stroke="#6a4a88" stroke-width="0.8"/>
<line x1="165.60" y1="401.09" x2="165.60" y2="410.79" stroke="#6a4a88" stroke-width="0.8"/>
<line x1="163.60" y1="401.09" x2="167.60" y2="401.09" stroke="#6a4a88" stroke-width="0.8"/>
<line x1="163.60" y1="410.79" x2="167.60" y2="410.79" stroke="#6a4a88" stroke-width="0.8"/>
<line x1="182.40" y1="406.75" x2="182.40" y2="416.46" stroke="#6a4a88" stroke-width="0.8"/>
<line x1="180.40" y1="406.75" x2="184.40" y2="406.75" stroke="#6a4a88" stroke-width="0.8"/>
<line x1="180.40" y1="416.46" x2="184.40" y2="416.46" stroke="#6a4a88" stroke-width="0.8"/>
<circle cx="64.80" cy="357.40" r="2.00" fill="#4e2479"/>
<circle cx="81.60" cy="356.59" r="2.00" fill="#4e2479"/>
<circle cx="98.40" cy="366.30" r="2.00" fill="#4e2479"/>
<circle cx="115.20" cy="381.67" r="2.00" fill="#4e2479"/>
<circle cx="132.00" cy="391.38" r="2.00" fill="#4e2479"/>
<circle cx="148.80" cy="400.28" r="2.00" fill="#4e2479"/>
<circle cx="165.60" cy="405.94" r="2.00" fill="#4e2479"/>
<circle cx="182.40" cy="411.60" r="2.00" fill="#4e2479"/>
<polyline points="64.80,357.40 81.60,354.97 98.40,355.78 115.20,357.40 132.00,357.40 148.80,358.61 165.60,357.40 182.40,363.87" fill="none" stroke="#2a2a2a" stroke-width="0.9" stroke-linejoin="round"/>
<line x1="81.60" y1="351.33" x2="81.60" y2="358.61" stroke="#2a2a2a" stroke-width="0.8"/>
<line x1="79.60" y1="351.33" x2="83.60" y2="351.33" stroke="#2a2a2a" stroke-width="0.8"/>
<line x1="79.60" y1="358.61" x2="83.60" y2="358.61" stroke="#2a2a2a" stroke-width="0.8"/>
<line x1="98.40" y1="352.95" x2="98.40" y2="358.61" stroke="#2a2a2a" stroke-width="0.8"/>
<line x1="96.40" y1="352.95" x2="100.40" y2="352.95" stroke="#2a2a2a" stroke-width="0.8"/>
<line x1="96.40" y1="358.61" x2="100.40" y2="358.61" stroke="#2a2a2a" stroke-width="0.8"/>
<line x1="115.20" y1="355.38" x2="115.20" y2="359.42" stroke="#2a2a2a" stroke-width="0.8"/>
<line x1="113.20" y1="355.38" x2="117.20" y2="355.38" stroke="#2a2a2a" stroke-width="0.8"/>
<line x1="113.20" y1="359.42" x2="117.20" y2="359.42" stroke="#2a2a2a" stroke-width="0.8"/>
<line x1="132.00" y1="354.57" x2="132.00" y2="360.23" stroke="#2a2a2a" stroke-width="0.8"/>
<line x1="130.00" y1="354.57" x2="134.00" y2="354.57" stroke="#2a2a2a" stroke-width="0.8"/>
<line x1="130.00" y1="360.23" x2="134.00" y2="360.23" stroke="#2a2a2a" stroke-width="0.8"/>
<line x1="148.80" y1="355.78" x2="148.80" y2="361.44" stroke="#2a2a2a" stroke-width="0.8"/>
<line x1="146.80" y1="355.78" x2="150.80" y2="355.78" stroke="#2a2a2a" stroke-width="0.8"/>
<line x1="146.80" y1="361.44" x2="150.80" y2="361.44" stroke="#2a2a2a" stroke-width="0.8"/>
<line x1="165.60" y1="350.52" x2="165.60" y2="364.28" stroke="#2a2a2a" stroke-width="0.8"/>
<line x1="163.60" y1="350.52" x2="167.60" y2="350.52" stroke="#2a2a2a" stroke-width="0.8"/>
<line x1="163.60" y1="364.28" x2="167.60" y2="364.28" stroke="#2a2a2a" stroke-width="0.8"/>
<line x1="182.40" y1="358.61" x2="182.40" y2="369.13" stroke="#2a2a2a" stroke-width="0.8"/>
<line x1="180.40" y1="358.61" x2="184.40" y2="358.61" stroke="#2a2a2a" stroke-width="0.8"/>
<line x1="180.40" y1="369.13" x2="184.40" y2="369.13" stroke="#2a2a2a" stroke-width="0.8"/>
<circle cx="64.80" cy="357.40" r="2.00" fill="#000000"/>
<circle cx="81.60" cy="354.97" r="2.00" fill="#000000"/>
<circle cx="98.40" cy="355.78" r="2.00" fill="#000000"/>
<circle cx="115.20" cy="357.40" r="2.00" fill="#000000"/>
<circle cx="132.00" cy="357.40" r="2.00" fill="#000000"/>
<circle cx="148.80" cy="358.61" r="2.00" fill="#000000"/>
<circle cx="165.60" cy="357.40" r="2.00" fill="#000000"/>
<circle cx="182.40" cy="363.87" r="2.00" fill="#000000"/>
<line x1="205.40" y1="351.50" x2="215.00" y2="351.50" stroke="#2a2a2a" stroke-width="1"/>
<circle cx="210.20" cy="351.50" r="1.80" fill="#000000"/>
<text x="220.20" y="355.00" font-size="9.8" stroke="#000" stroke-width="0.3">shNTC</text>
<line x1="205.40" y1="366.45" x2="215.00" y2="366.45" stroke="#6a4a88" stroke-width="1"/>
<circle cx="210.20" cy="366.45" r="1.80" fill="#4e2479"/>
<text x="220.20" y="369.95" font-size="9.8" stroke="#000" stroke-width="0.3">shPLK1</text>
<line x1="205.40" y1="381.40" x2="215.00" y2="381.40" stroke="#e8a070" stroke-width="1"/>
<circle cx="210.20" cy="381.40" r="1.80" fill="#d97a3a"/>
<text x="220.20" y="384.90" font-size="9.8" stroke="#000" stroke-width="0.3">shVRK1-01</text>
<line x1="205.40" y1="396.35" x2="215.00" y2="396.35" stroke="#cf8cc2" stroke-width="1"/>
<circle cx="210.20" cy="396.35" r="1.80" fill="#b85a9c"/>
<text x="220.20" y="399.85" font-size="9.8" stroke="#000" stroke-width="0.3">shVRK1-02</text>
<line x1="348.00" y1="181.50" x2="348.00" y2="263.00" stroke="#000" stroke-width="1.2"/>
<line x1="347.40" y1="262.50" x2="430.00" y2="262.50" stroke="#000" stroke-width="1.2"/>
<line x1="344.60" y1="262.50" x2="348.00" y2="262.50" stroke="#000" stroke-width="1.1"/>
<text x="0.00" y="0.00" font-size="11.124" font-weight="bold" stroke="#000" stroke-width="0.25" text-anchor="end" transform="translate(343.70 266.20) scale(0.88 1)">0.0</text>
<line x1="344.60" y1="235.50" x2="348.00" y2="235.50" stroke="#000" stroke-width="1.1"/>
<text x="0.00" y="0.00" font-size="11.124" font-weight="bold" stroke="#000" stroke-width="0.25" text-anchor="end" transform="translate(343.70 239.20) scale(0.88 1)">0.5</text>
<line x1="344.60" y1="208.50" x2="348.00" y2="208.50" stroke="#000" stroke-width="1.1"/>
<text x="0.00" y="0.00" font-size="11.124" font-weight="bold" stroke="#000" stroke-width="0.25" text-anchor="end" transform="translate(343.70 212.20) scale(0.88 1)">1.0</text>
<line x1="344.60" y1="181.50" x2="348.00" y2="181.50" stroke="#000" stroke-width="1.1"/>
<text x="0.00" y="0.00" font-size="11.124" font-weight="bold" stroke="#000" stroke-width="0.25" text-anchor="end" transform="translate(343.70 185.20) scale(0.88 1)">1.5</text>
<text x="389.60" y="165.90" font-size="11.5" font-weight="bold" stroke="#000" stroke-width="0.25" text-anchor="middle">3832 Proliferation day 6</text>
<text x="312.40" y="220.00" font-size="11.6" font-weight="bold" stroke="#000" stroke-width="0.25" text-anchor="middle" transform="rotate(-90 312.40 220.00)">Relative cell</text>
<text x="327.00" y="220.00" font-size="11.6" font-weight="bold" stroke="#000" stroke-width="0.25" text-anchor="middle" transform="rotate(-90 327.00 220.00)">number</text>
<line x1="361.00" y1="203.10" x2="361.00" y2="208.50" stroke="#555" stroke-width="0.9"/>
<line x1="358.00" y1="203.10" x2="364.00" y2="203.10" stroke="#555" stroke-width="0.9"/>
<rect x="355.65" y="208.50" width="10.70" height="54.00" fill="#000000" stroke="#000" stroke-width="1.1"/>
<line x1="361.00" y1="262.50" x2="361.00" y2="265.00" stroke="#000" stroke-width="1"/>
<text x="365.00" y="274.00" font-size="10.5" font-weight="bold" stroke="#000" stroke-width="0.25" text-anchor="end" transform="rotate(-45 365.00 274.00)">NTC</text>
<line x1="379.60" y1="245.06" x2="379.60" y2="249.92" stroke="#555" stroke-width="0.9"/>
<line x1="376.60" y1="245.06" x2="382.60" y2="245.06" stroke="#555" stroke-width="0.9"/>
<rect x="374.25" y="249.92" width="10.70" height="12.58" fill="#6a2a92" stroke="#000" stroke-width="1.1"/>
<line x1="379.60" y1="262.50" x2="379.60" y2="265.00" stroke="#000" stroke-width="1"/>
<text x="383.60" y="274.00" font-size="10.5" font-weight="bold" stroke="#000" stroke-width="0.25" text-anchor="end" transform="rotate(-45 383.60 274.00)">PLK1</text>
<line x1="398.20" y1="223.62" x2="398.20" y2="225.78" stroke="#555" stroke-width="0.9"/>
<line x1="395.20" y1="223.62" x2="401.20" y2="223.62" stroke="#555" stroke-width="0.9"/>
<rect x="392.85" y="225.78" width="10.70" height="36.72" fill="#f7821f" stroke="#000" stroke-width="1.1"/>
<line x1="398.20" y1="262.50" x2="398.20" y2="265.00" stroke="#000" stroke-width="1"/>
<text x="402.20" y="274.00" font-size="10.5" font-weight="bold" stroke="#000" stroke-width="0.25" text-anchor="end" transform="rotate(-45 402.20 274.00)">VRK1 sh1</text>
<line x1="416.80" y1="243.60" x2="416.80" y2="250.62" stroke="#555" stroke-width="0.9"/>
<line x1="413.80" y1="243.60" x2="419.80" y2="243.60" stroke="#555" stroke-width="0.9"/>
<rect x="411.45" y="250.62" width="10.70" height="11.88" fill="#d35fb9" stroke="#000" stroke-width="1.1"/>
<line x1="416.80" y1="262.50" x2="416.80" y2="265.00" stroke="#000" stroke-width="1"/>
<text x="420.80" y="274.00" font-size="10.5" font-weight="bold" stroke="#000" stroke-width="0.25" text-anchor="end" transform="rotate(-45 420.80 274.00)">VRK1 sh2</text>
<polyline points="361.00,200.20 361.00,195.60 379.60,195.60 379.60,200.60" fill="none" stroke="#000" stroke-width="1"/>
<text x="371.05" y="195.74" font-size="9.2" font-weight="bold" text-anchor="middle" stroke="#000" stroke-width="0.35" letter-spacing="1.5" filter="url(#sb)">****</text>
<polyline points="361.00,185.60 361.00,181.00 416.80,181.00 416.80,185.60" fill="none" stroke="#000" stroke-width="1"/>
<text x="389.65" y="181.14" font-size="9.2" font-weight="bold" text-anchor="middle" stroke="#000" stroke-width="0.35" letter-spacing="1.5" filter="url(#sb)">****</text>
<line x1="346.80" y1="348.30" x2="346.80" y2="429.30" stroke="#000" stroke-width="1.2"/>
<line x1="346.20" y1="428.80" x2="429.00" y2="428.80" stroke="#000" stroke-width="1.2"/>
<line x1="343.40" y1="428.80" x2="346.80" y2="428.80" stroke="#000" stroke-width="1.1"/>
<text x="0.00" y="0.00" font-size="11.124" font-weight="bold" stroke="#000" stroke-width="0.25" text-anchor="end" transform="translate(342.50 432.50) scale(0.88 1)">0.0</text>
<line x1="343.40" y1="401.95" x2="346.80" y2="401.95" stroke="#000" stroke-width="1.1"/>
<text x="0.00" y="0.00" font-size="11.124" font-weight="bold" stroke="#000" stroke-width="0.25" text-anchor="end" transform="translate(342.50 405.65) scale(0.88 1)">0.5</text>
<line x1="343.40" y1="375.10" x2="346.80" y2="375.10" stroke="#000" stroke-width="1.1"/>
<text x="0.00" y="0.00" font-size="11.124" font-weight="bold" stroke="#000" stroke-width="0.25" text-anchor="end" transform="translate(342.50 378.80) scale(0.88 1)">1.0</text>
<line x1="343.40" y1="348.25" x2="346.80" y2="348.25" stroke="#000" stroke-width="1.1"/>
<text x="0.00" y="0.00" font-size="11.124" font-weight="bold" stroke="#000" stroke-width="0.25" text-anchor="end" transform="translate(342.50 351.95) scale(0.88 1)">1.5</text>
<text x="388.00" y="332.40" font-size="11.5" font-weight="bold" stroke="#000" stroke-width="0.25" text-anchor="middle">DI318 Proliferation day 6</text>
<text x="311.40" y="388.00" font-size="11.6" font-weight="bold" stroke="#000" stroke-width="0.25" text-anchor="middle" transform="rotate(-90 311.40 388.00)">Relative cell</text>
<text x="326.00" y="388.00" font-size="11.6" font-weight="bold" stroke="#000" stroke-width="0.25" text-anchor="middle" transform="rotate(-90 326.00 388.00)">number</text>
<line x1="360.20" y1="365.43" x2="360.20" y2="375.64" stroke="#555" stroke-width="0.9"/>
<line x1="357.20" y1="365.43" x2="363.20" y2="365.43" stroke="#555" stroke-width="0.9"/>
<rect x="354.85" y="375.64" width="10.70" height="53.16" fill="#000000" stroke="#000" stroke-width="1.1"/>
<line x1="360.20" y1="428.80" x2="360.20" y2="431.30" stroke="#000" stroke-width="1"/>
<text x="364.20" y="440.30" font-size="10.5" font-weight="bold" stroke="#000" stroke-width="0.25" text-anchor="end" transform="rotate(-45 364.20 440.30)">NTC</text>
<line x1="378.30" y1="397.65" x2="378.30" y2="407.32" stroke="#555" stroke-width="0.9"/>
<line x1="375.30" y1="397.65" x2="381.30" y2="397.65" stroke="#555" stroke-width="0.9"/>
<rect x="372.95" y="407.32" width="10.70" height="21.48" fill="#6a2a92" stroke="#000" stroke-width="1.1"/>
<line x1="378.30" y1="428.80" x2="378.30" y2="431.30" stroke="#000" stroke-width="1"/>
<text x="382.30" y="440.30" font-size="10.5" font-weight="bold" stroke="#000" stroke-width="0.25" text-anchor="end" transform="rotate(-45 382.30 440.30)">PLK1</text>
<line x1="397.00" y1="376.71" x2="397.00" y2="386.38" stroke="#555" stroke-width="0.9"/>
<line x1="394.00" y1="376.71" x2="400.00" y2="376.71" stroke="#555" stroke-width="0.9"/>
<rect x="391.65" y="386.38" width="10.70" height="42.42" fill="#f7821f" stroke="#000" stroke-width="1.1"/>
<line x1="397.00" y1="428.80" x2="397.00" y2="431.30" stroke="#000" stroke-width="1"/>
<text x="401.00" y="440.30" font-size="10.5" font-weight="bold" stroke="#000" stroke-width="0.25" text-anchor="end" transform="rotate(-45 401.00 440.30)">VRK1 sh1</text>
<line x1="415.20" y1="384.23" x2="415.20" y2="391.21" stroke="#555" stroke-width="0.9"/>
<line x1="412.20" y1="384.23" x2="418.20" y2="384.23" stroke="#555" stroke-width="0.9"/>
<rect x="409.85" y="391.21" width="10.70" height="37.59" fill="#d35fb9" stroke="#000" stroke-width="1.1"/>
<line x1="415.20" y1="428.80" x2="415.20" y2="431.30" stroke="#000" stroke-width="1"/>
<text x="419.20" y="440.30" font-size="10.5" font-weight="bold" stroke="#000" stroke-width="0.25" text-anchor="end" transform="rotate(-45 419.20 440.30)">VRK1 sh2</text>
<polyline points="360.20,357.70 360.20,354.20 378.30,354.20 378.30,358.70" fill="none" stroke="#000" stroke-width="1"/>
<text x="370.00" y="354.34" font-size="9.2" font-weight="bold" text-anchor="middle" stroke="#000" stroke-width="0.35" letter-spacing="1.5" filter="url(#sb)">***</text>
<text x="1.50" y="495.60" font-size="17" font-weight="bold" stroke="#000" stroke-width="0.25">E</text>
<text x="117.40" y="503.80" font-size="10.7" stroke="#000" stroke-width="0.3" text-anchor="middle">3832</text>
<text x="67.60" y="552.20" font-size="10" stroke="#000" stroke-width="0.3" transform="rotate(-90 67.60 552.20)">NTC</text>
<text x="83.00" y="552.20" font-size="10" stroke="#000" stroke-width="0.3" transform="rotate(-90 83.00 552.20)">VRK1-1</text>
<text x="98.40" y="552.20" font-size="10" stroke="#000" stroke-width="0.3" transform="rotate(-90 98.40 552.20)">VRK1-2</text>
<text x="111.90" y="552.20" font-size="10" stroke="#000" stroke-width="0.3" transform="rotate(-90 111.90 552.20)">PLK1</text>
<text x="126.60" y="552.20" font-size="10" stroke="#000" stroke-width="0.3" transform="rotate(-90 126.60 552.20)">NTC</text>
<text x="143.10" y="552.20" font-size="10" stroke="#000" stroke-width="0.3" transform="rotate(-90 143.10 552.20)">VRK1-1</text>
<text x="157.10" y="552.20" font-size="10" stroke="#000" stroke-width="0.3" transform="rotate(-90 157.10 552.20)">VRK1-2</text>
<text x="171.30" y="552.20" font-size="10" stroke="#000" stroke-width="0.3" transform="rotate(-90 171.30 552.20)">PLK1</text>
<text x="27.00" y="565.40" font-size="9.8" stroke="#000" stroke-width="0.3">VRK1</text>
<text x="27.30" y="577.20" font-size="9.8" stroke="#000" stroke-width="0.3">Actin</text>
<rect x="55.50" y="555.20" width="119.90" height="12.00" fill="#dcdcdc"/>
<rect x="57.00" y="559.30" width="13.00" height="3.00" rx="1.00" fill="#000" fill-opacity="0.30" filter="url(#b1)"/>
<rect x="71.84" y="559.30" width="13.00" height="3.00" rx="1.00" fill="#000" fill-opacity="0.40" filter="url(#b1)"/>
<rect x="86.69" y="559.30" width="13.00" height="3.00" rx="1.00" fill="#000" fill-opacity="0.25" filter="url(#b1)"/>
<rect x="101.53" y="559.30" width="13.00" height="3.00" rx="1.00" fill="#000" fill-opacity="0.45" filter="url(#b1)"/>
<rect x="116.37" y="559.30" width="13.00" height="3.00" rx="1.00" fill="#000" fill-opacity="0.50" filter="url(#b1)"/>
<rect x="131.21" y="559.30" width="13.00" height="3.00" rx="1.00" fill="#000" fill-opacity="0.30" filter="url(#b1)"/>
<rect x="146.06" y="559.30" width="13.00" height="3.00" rx="1.00" fill="#000" fill-opacity="0.25" filter="url(#b1)"/>
<rect x="160.90" y="559.30" width="13.00" height="3.00" rx="1.00" fill="#000" fill-opacity="0.60" filter="url(#b1)"/>
<rect x="55.50" y="569.00" width="119.90" height="10.60" fill="#d6d6d6"/>
<rect x="57.00" y="572.70" width="13.00" height="3.00" rx="1.00" fill="#000" fill-opacity="0.65" filter="url(#b1)"/>
<rect x="71.84" y="572.70" width="13.00" height="3.00" rx="1.00" fill="#000" fill-opacity="0.60" filter="url(#b1)"/>
<rect x="86.69" y="572.70" width="13.00" height="3.00" rx="1.00" fill="#000" fill-opacity="0.62" filter="url(#b1)"/>
<rect x="101.53" y="572.70" width="13.00" height="3.00" rx="1.00" fill="#000" fill-opacity="0.62" filter="url(#b1)"/>
<rect x="116.37" y="572.70" width="13.00" height="3.00" rx="1.00" fill="#000" fill-opacity="0.62" filter="url(#b1)"/>
<rect x="131.21" y="572.70" width="13.00" height="3.00" rx="1.00" fill="#000" fill-opacity="0.62" filter="url(#b1)"/>
<rect x="146.06" y="572.70" width="13.00" height="3.00" rx="1.00" fill="#000" fill-opacity="0.62" filter="url(#b1)"/>
<rect x="160.90" y="572.70" width="13.00" height="3.00" rx="1.00" fill="#000" fill-opacity="0.70" filter="url(#b1)"/>
<polyline points="56.50,582.30 56.50,584.80 113.45,584.80 113.45,582.30" fill="none" stroke="#777" stroke-width="0.8"/>
<polyline points="117.45,582.30 117.45,584.80 174.40,584.80 174.40,582.30" fill="none" stroke="#777" stroke-width="0.8"/>
<text x="83.10" y="594.30" font-size="9.8" stroke="#000" stroke-width="0.3" text-anchor="middle">no dox</text>
<text x="148.50" y="594.30" font-size="9.8" stroke="#000" stroke-width="0.3" text-anchor="middle">+ dox</text>
<text x="113.40" y="625.20" font-size="11.2" stroke="#000" stroke-width="0.3" text-anchor="middle">DI318</text>
<text x="66.20" y="671.20" font-size="10" stroke="#000" stroke-width="0.3" transform="rotate(-90 66.20 671.20)">NTC</text>
<text x="83.30" y="671.20" font-size="10" stroke="#000" stroke-width="0.3" transform="rotate(-90 83.30 671.20)">VRK1-1</text>
<text x="98.60" y="671.20" font-size="10" stroke="#000" stroke-width="0.3" transform="rotate(-90 98.60 671.20)">VRK1-2</text>
<text x="112.50" y="671.20" font-size="10" stroke="#000" stroke-width="0.3" transform="rotate(-90 112.50 671.20)">PLK1</text>
<text x="126.60" y="671.20" font-size="10" stroke="#000" stroke-width="0.3" transform="rotate(-90 126.60 671.20)">NTC</text>
<text x="143.30" y="671.20" font-size="10" stroke="#000" stroke-width="0.3" transform="rotate(-90 143.30 671.20)">VRK1-1</text>
<text x="157.80" y="671.20" font-size="10" stroke="#000" stroke-width="0.3" transform="rotate(-90 157.80 671.20)">VRK1-2</text>
<text x="172.40" y="671.20" font-size="10" stroke="#000" stroke-width="0.3" transform="rotate(-90 172.40 671.20)">PLK1</text>
<text x="27.00" y="684.20" font-size="9.8" stroke="#000" stroke-width="0.3">VRK1</text>
<text x="27.30" y="695.50" font-size="9.8" stroke="#000" stroke-width="0.3">Actin</text>
<rect x="57.00" y="673.20" width="122.40" height="14.00" fill="#dcdcdc"/>
<rect x="58.50" y="678.00" width="13.00" height="3.00" rx="1.00" fill="#000" fill-opacity="0.35" filter="url(#b1)"/>
<rect x="73.70" y="678.00" width="13.00" height="3.00" rx="1.00" fill="#000" fill-opacity="0.50" filter="url(#b1)"/>
<rect x="88.90" y="678.00" width="13.00" height="3.00" rx="1.00" fill="#000" fill-opacity="0.30" filter="url(#b1)"/>
<rect x="104.10" y="678.00" width="13.00" height="3.00" rx="1.00" fill="#000" fill-opacity="0.30" filter="url(#b1)"/>
<rect x="119.30" y="678.00" width="13.00" height="3.00" rx="1.00" fill="#000" fill-opacity="0.15" filter="url(#b1)"/>
<rect x="134.50" y="678.00" width="13.00" height="3.00" rx="1.00" fill="#000" fill-opacity="0.12" filter="url(#b1)"/>
<rect x="149.70" y="678.00" width="13.00" height="3.00" rx="1.00" fill="#000" fill-opacity="0.02" filter="url(#b1)"/>
<rect x="164.90" y="678.00" width="13.00" height="3.00" rx="1.00" fill="#000" fill-opacity="0.35" filter="url(#b1)"/>
<rect x="57.00" y="689.00" width="122.40" height="10.80" fill="#d6d6d6"/>
<rect x="58.50" y="692.90" width="13.00" height="3.00" rx="1.00" fill="#000" fill-opacity="0.80" filter="url(#b1)"/>
<rect x="73.70" y="692.90" width="13.00" height="3.00" rx="1.00" fill="#000" fill-opacity="0.80" filter="url(#b1)"/>
<rect x="88.90" y="692.90" width="13.00" height="3.00" rx="1.00" fill="#000" fill-opacity="0.70" filter="url(#b1)"/>
<rect x="104.10" y="692.90" width="13.00" height="3.00" rx="1.00" fill="#000" fill-opacity="0.70" filter="url(#b1)"/>
<rect x="119.30" y="692.90" width="13.00" height="3.00" rx="1.00" fill="#000" fill-opacity="0.55" filter="url(#b1)"/>
<rect x="134.50" y="692.90" width="13.00" height="3.00" rx="1.00" fill="#000" fill-opacity="0.70" filter="url(#b1)"/>
<rect x="149.70" y="692.90" width="13.00" height="3.00" rx="1.00" fill="#000" fill-opacity="0.70" filter="url(#b1)"/>
<rect x="164.90" y="692.90" width="13.00" height="3.00" rx="1.00" fill="#000" fill-opacity="0.70" filter="url(#b1)"/>
<polyline points="58.00,700.80 58.00,703.30 116.20,703.30 116.20,700.80" fill="none" stroke="#777" stroke-width="0.8"/>
<polyline points="120.20,700.80 120.20,703.30 178.40,703.30 178.40,700.80" fill="none" stroke="#777" stroke-width="0.8"/>
<text x="85.75" y="712.80" font-size="9.8" stroke="#000" stroke-width="0.3" text-anchor="middle">no dox</text>
<text x="150.30" y="712.80" font-size="9.8" stroke="#000" stroke-width="0.3" text-anchor="middle">+ dox</text>
<text x="225.50" y="496.00" font-size="17" font-weight="bold" stroke="#000" stroke-width="0.25">F</text>
<line x1="282.30" y1="525.50" x2="282.30" y2="613.20" stroke="#000" stroke-width="1.2"/>
<line x1="281.70" y1="612.70" x2="339.70" y2="612.70" stroke="#000" stroke-width="1.2"/>
<line x1="278.90" y1="612.70" x2="282.30" y2="612.70" stroke="#000" stroke-width="1.1"/>
<text x="0.00" y="0.00" font-size="10.48" font-weight="bold" stroke="#000" stroke-width="0.25" text-anchor="end" transform="translate(278.10 616.40) scale(0.88 1)">0</text>
<line x1="278.90" y1="583.84" x2="282.30" y2="583.84" stroke="#000" stroke-width="1.1"/>
<text x="0.00" y="0.00" font-size="10.48" font-weight="bold" stroke="#000" stroke-width="0.25" text-anchor="end" transform="translate(278.10 587.54) scale(0.88 1)">50</text>
<line x1="278.90" y1="554.97" x2="282.30" y2="554.97" stroke="#000" stroke-width="1.1"/>
<text x="0.00" y="0.00" font-size="10.48" font-weight="bold" stroke="#000" stroke-width="0.25" text-anchor="end" transform="translate(278.10 558.67) scale(0.88 1)">100</text>
<line x1="278.90" y1="526.11" x2="282.30" y2="526.11" stroke="#000" stroke-width="1.1"/>
<text x="0.00" y="0.00" font-size="10.48" font-weight="bold" stroke="#000" stroke-width="0.25" text-anchor="end" transform="translate(278.10 529.81) scale(0.88 1)">150</text>
<text x="310.00" y="506.50" font-size="10.6" font-weight="bold" stroke="#000" stroke-width="0.25" text-anchor="middle">3832 VRK1 mRNA</text>
<text x="245.00" y="567.70" font-size="10.8" font-weight="bold" stroke="#000" stroke-width="0.25" text-anchor="middle" transform="rotate(-90 245.00 567.70)">Relative</text>
<text x="257.00" y="567.70" font-size="10.8" font-weight="bold" stroke="#000" stroke-width="0.25" text-anchor="middle" transform="rotate(-90 257.00 567.70)">mRNA expression</text>
<line x1="293.65" y1="554.10" x2="293.65" y2="554.97" stroke="#555" stroke-width="0.9"/>
<line x1="290.65" y1="554.10" x2="296.65" y2="554.10" stroke="#555" stroke-width="0.9"/>
<rect x="288.70" y="554.97" width="9.90" height="57.73" fill="#000000" stroke="#000" stroke-width="1.1"/>
<line x1="293.65" y1="612.70" x2="293.65" y2="615.20" stroke="#000" stroke-width="1"/>
<text x="297.45" y="625.00" font-size="9.6" font-weight="bold" stroke="#000" stroke-width="0.25" text-anchor="end" transform="rotate(-45 297.45 625.00)">Nontarget</text>
<line x1="310.80" y1="579.79" x2="310.80" y2="582.51" stroke="#555" stroke-width="0.9"/>
<line x1="307.80" y1="579.79" x2="313.80" y2="579.79" stroke="#555" stroke-width="0.9"/>
<rect x="305.90" y="582.51" width="9.80" height="30.19" fill="#f7821f" stroke="#000" stroke-width="1.1"/>
<line x1="310.80" y1="612.70" x2="310.80" y2="615.20" stroke="#000" stroke-width="1"/>
<text x="314.60" y="625.00" font-size="9.6" font-weight="bold" stroke="#000" stroke-width="0.25" text-anchor="end" transform="rotate(-45 314.60 625.00)">VRK1 sh1</text>
<line x1="328.10" y1="608.25" x2="328.10" y2="608.95" stroke="#555" stroke-width="0.9"/>
<line x1="325.10" y1="608.25" x2="331.10" y2="608.25" stroke="#555" stroke-width="0.9"/>
<rect x="323.00" y="608.95" width="10.20" height="3.75" fill="#d35fb9" stroke="#000" stroke-width="1.1"/>
<line x1="328.10" y1="612.70" x2="328.10" y2="615.20" stroke="#000" stroke-width="1"/>
<text x="331.90" y="625.00" font-size="9.6" font-weight="bold" stroke="#000" stroke-width="0.25" text-anchor="end" transform="rotate(-45 331.90 625.00)">VRK1 sh2</text>
<polyline points="293.30,548.70 293.30,544.00 310.60,544.00 310.60,574.30" fill="none" stroke="#000" stroke-width="1"/>
<text x="302.70" y="543.54" font-size="9.2" font-weight="bold" text-anchor="middle" stroke="#000" stroke-width="0.35" letter-spacing="1.5" filter="url(#sb)">****</text>
<polyline points="293.30,530.80 293.30,525.20 328.10,525.20 328.10,602.70" fill="none" stroke="#000" stroke-width="1"/>
<text x="311.45" y="524.74" font-size="9.2" font-weight="bold" text-anchor="middle" stroke="#000" stroke-width="0.35" letter-spacing="1.5" filter="url(#sb)">****</text>
<line x1="407.40" y1="527.50" x2="407.40" y2="610.80" stroke="#000" stroke-width="1.2"/>
<line x1="406.80" y1="610.30" x2="462.60" y2="610.30" stroke="#000" stroke-width="1.2"/>
<line x1="404.00" y1="610.30" x2="407.40" y2="610.30" stroke="#000" stroke-width="1.1"/>
<text x="0.00" y="0.00" font-size="11.31" font-weight="bold" stroke="#000" stroke-width="0.25" text-anchor="end" transform="translate(403.20 614.30) scale(0.88 1)">0</text>
<line x1="404.00" y1="582.90" x2="407.40" y2="582.90" stroke="#000" stroke-width="1.1"/>
<text x="0.00" y="0.00" font-size="11.31" font-weight="bold" stroke="#000" stroke-width="0.25" text-anchor="end" transform="translate(403.20 586.90) scale(0.88 1)">50</text>
<line x1="404.00" y1="555.50" x2="407.40" y2="555.50" stroke="#000" stroke-width="1.1"/>
<text x="0.00" y="0.00" font-size="11.31" font-weight="bold" stroke="#000" stroke-width="0.25" text-anchor="end" transform="translate(403.20 559.50) scale(0.88 1)">100</text>
<line x1="404.00" y1="528.10" x2="407.40" y2="528.10" stroke="#000" stroke-width="1.1"/>
<text x="0.00" y="0.00" font-size="11.31" font-weight="bold" stroke="#000" stroke-width="0.25" text-anchor="end" transform="translate(403.20 532.10) scale(0.88 1)">150</text>
<text x="435.60" y="506.50" font-size="11.45" font-weight="bold" stroke="#000" stroke-width="0.25" text-anchor="middle">DI318 VRK1 mRNA</text>
<text x="367.30" y="566.30" font-size="11.66" font-weight="bold" stroke="#000" stroke-width="0.25" text-anchor="middle" transform="rotate(-90 367.30 566.30)">Relative</text>
<text x="379.00" y="566.30" font-size="11.66" font-weight="bold" stroke="#000" stroke-width="0.25" text-anchor="middle" transform="rotate(-90 379.00 566.30)">mRNA expression</text>
<line x1="418.70" y1="553.31" x2="418.70" y2="555.50" stroke="#555" stroke-width="0.9"/>
<line x1="415.70" y1="553.31" x2="421.70" y2="553.31" stroke="#555" stroke-width="0.9"/>
<rect x="413.95" y="555.50" width="9.50" height="54.80" fill="#000000" stroke="#000" stroke-width="1.1"/>
<line x1="418.70" y1="610.30" x2="418.70" y2="612.80" stroke="#000" stroke-width="1"/>
<text x="422.50" y="622.60" font-size="10.37" font-weight="bold" stroke="#000" stroke-width="0.25" text-anchor="end" transform="rotate(-45 422.50 622.60)">Nontarget</text>
<line x1="435.50" y1="594.68" x2="435.50" y2="595.50" stroke="#555" stroke-width="0.9"/>
<line x1="432.50" y1="594.68" x2="438.50" y2="594.68" stroke="#555" stroke-width="0.9"/>
<rect x="430.85" y="595.50" width="9.30" height="14.80" fill="#f7821f" stroke="#000" stroke-width="1.1"/>
<line x1="435.50" y1="610.30" x2="435.50" y2="612.80" stroke="#000" stroke-width="1"/>
<text x="439.30" y="622.60" font-size="10.37" font-weight="bold" stroke="#000" stroke-width="0.25" text-anchor="end" transform="rotate(-45 439.30 622.60)">VRK1 sh1</text>
<line x1="451.50" y1="607.01" x2="451.50" y2="607.56" stroke="#555" stroke-width="0.9"/>
<line x1="448.50" y1="607.01" x2="454.50" y2="607.01" stroke="#555" stroke-width="0.9"/>
<rect x="446.95" y="607.56" width="9.10" height="2.74" fill="#d35fb9" stroke="#000" stroke-width="1.1"/>
<line x1="451.50" y1="610.30" x2="451.50" y2="612.80" stroke="#000" stroke-width="1"/>
<text x="455.30" y="622.60" font-size="10.37" font-weight="bold" stroke="#000" stroke-width="0.25" text-anchor="end" transform="rotate(-45 455.30 622.60)">VRK1 sh2</text>
<polyline points="418.60,548.40 418.60,543.40 435.60,543.40 435.60,589.10" fill="none" stroke="#000" stroke-width="1"/>
<text x="427.85" y="542.94" font-size="9.2" font-weight="bold" text-anchor="middle" stroke="#000" stroke-width="0.35" letter-spacing="1.5" filter="url(#sb)">****</text>
<polyline points="418.60,530.90 418.60,525.90 451.50,525.90 451.50,602.60" fill="none" stroke="#000" stroke-width="1"/>
<text x="435.80" y="525.44" font-size="9.2" font-weight="bold" text-anchor="middle" stroke="#000" stroke-width="0.35" letter-spacing="1.5" filter="url(#sb)">****</text>
</svg>
</body></html>
